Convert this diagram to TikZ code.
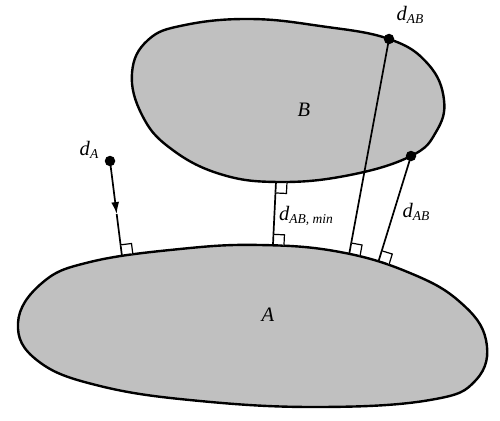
\documentclass[tikz,border=0pt]{standalone}
\usepackage{fontspec}
\setmainfont{Liberation Serif}
\usetikzlibrary{calc,arrows.meta,intersections}
\definecolor{shapegray}{RGB}{192,192,192}
% right-angle marker: #1 end point, #2 other end of the line, #3 rotation angle
\newcommand\sqmark[3]{%
  \path ($(#1)!11pt!(#2)$) coordinate (mkA) ($(#1)!11pt!#3:(#2)$) coordinate (mkB);
  \draw[mk] (mkA) -- ($(mkA)+(mkB)-(#1)$) -- (mkB);}
\newcommand\dlab[1]{\textit{d}\raisebox{-0.4ex}{\fontsize{13.5}{15}\selectfont\itshape #1}}
\tikzset{
  body/.style={draw=black, fill=shapegray, line width=2.4pt},
  dl/.style={line width=1.7pt},
  mk/.style={line width=1.2pt, fill=white},
  dotn/.style={circle, fill=black, inner sep=0pt, minimum size=10.5pt},
  lab/.style={inner sep=0pt, font=\fontsize{20.5}{24}\selectfont},
}
\begin{document}
\begin{tikzpicture}[x=1pt, y=-1pt]
\useasboundingbox (0,0) rectangle (500,420);
% shape B
\draw[body, name path=pB] plot[smooth cycle, tension=0.7] coordinates {
  (132,73) (148,40) (185,25) (250,19) (320,26) (389,39) (428,64) (444,100)
  (436,132) (411,156) (350,175) (280,182) (220,174) (170,148) (142,115)};
% shape A
\draw[body, name path=pA] plot[smooth cycle, tension=0.7] coordinates {
  (18,323) (42,283) (90,262) (180,249) (260,245) (340,252) (410,273)
  (460,302) (486,340) (476,380) (430,400) (320,407) (200,401) (100,386)
  (38,361)};
% points
\node[dotn] (dA) at (110,161) {};
\node[dotn] (d1) at (389,39) {};
\node[dotn] (d2) at (411,156) {};
\path[name path=LA] (dA.center) -- ($(dA.center)!1.3!(122,256)$);
\path[name path=L1] (d1.center) -- ($(d1.center)!1.3!(349,255)$);
\path[name path=L2] (d2.center) -- ($(d2.center)!1.5!(378,263)$);
\path[name path=LM] (277.5,150) -- (271.5,275);
\path[name intersections={of=pA and LA, by=eA}];
\path[name intersections={of=pA and L1, by=e1}];
\path[name intersections={of=pA and L2, by=e2}];
\path[name intersections={of=pA and LM, by=mB}];
\path[name intersections={of=pB and LM, by=mT}];
\coordinate (mid) at ($(dA)!0.56!(eA)$);
% distance lines
\draw[dl, -{Latex[length=12pt, width=8pt]}] (dA.center) -- (mid);
\draw[dl] (mid) -- (eA);
\draw[dl] (mT) -- (mB);
\draw[dl] (d1.center) -- (e1);
\draw[dl] (d2.center) -- (e2);
% right-angle markers
\sqmark{eA}{dA}{-90}
\sqmark{mB}{mT}{-90}
\sqmark{mT}{mB}{90}
\sqmark{e1}{d1}{-90}
\sqmark{e2}{d2}{-90}
% labels
\node[lab] (lB) at (304,110) {\textit{B}};
\node[lab] (lA) at (268,315) {\textit{A}};
\node[lab] (ldA) at (89,150) {\dlab{A}};
\node[lab] (ld1) at (410,15) {\dlab{AB}};
\node[lab] (ld2) at (416,212) {\dlab{AB}};
\node[lab] (ldm) at (306,216) {\dlab{AB, min}};
\end{tikzpicture}
\end{document}
